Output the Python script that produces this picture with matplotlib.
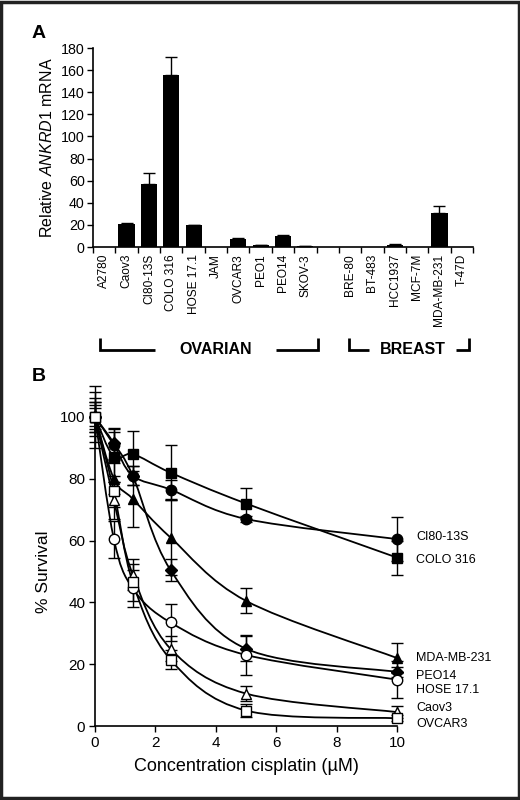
import numpy as np
import matplotlib
matplotlib.use("Agg")
import matplotlib.pyplot as plt
from matplotlib.path import Path
from matplotlib.patches import PathPatch, Rectangle
from matplotlib.transforms import blended_transform_factory

plt.rcParams['font.family'] = ['Liberation Sans', 'DejaVu Sans']
plt.rcParams['mathtext.fontset'] = 'custom'
plt.rcParams['mathtext.rm'] = 'Liberation Sans'
plt.rcParams['mathtext.it'] = 'Liberation Sans:italic'

# ---- panel A data ----
cell_lines = ['A2780', 'Caov3', 'CI80-13S', 'COLO 316', 'HOSE 17.1', 'JAM', 'OVCAR3',
              'PEO1', 'PEO14', 'SKOV-3', '', 'BRE-80', 'BT-483', 'HCC1937', 'MCF-7M',
              'MDA-MB-231', 'T-47D']
mrna = [0, 20.5, 57, 156, 20, 0, 7, 1.5, 10, 0.7, 0, 0, 0, 2, 0, 31, 0]
mrna_err = [0, 1, 10, 16, 0.3, 0, 1.2, 0.3, 0.6, 0.2, 0, 0, 0, 0.4, 0, 6, 0]

# ---- panel B data ----
conc = [0, 0.625, 1.25, 2.5, 5, 10]
surv_ci80 = [100, 91, 81, 76.5, 67, 60.5]
err_ci80 = [5, 5, 3, 3, 1, 7]
surv_colo = [100, 87, 88, 82, 72, 54.5]
err_colo = [10, 8, 7.5, 9, 5, 5.5]
surv_mda = [100, 80, 73.5, 61, 40.5, 22]
err_mda = [6, 5, 9, 12, 4, 4.7]
surv_peo14 = [100, 91.5, 81, 50.5, 25, 17.5]
err_peo14 = [4, 5, 3, 3.5, 4, 1.5]
surv_hose = [100, 60.5, 44.5, 33.5, 23, 15]
err_hose = [8, 6, 6, 6, 6.5, 6]
surv_caov3 = [100, 73, 49, 25, 10.5, 4.5]
err_caov3 = [3, 6, 5, 4, 2.5, 2]
surv_ovcar3 = [100, 76, 46.5, 21.5, 5, 2.5]
err_ovcar3 = [5, 5, 6, 3, 2, 1]

series = [
    ('CI80-13S', surv_ci80, err_ci80, 'o', 'black', 61.2),
    ('COLO 316', surv_colo, err_colo, 's', 'black', 53.7),
    ('MDA-MB-231', surv_mda, err_mda, '^', 'black', 22),
    ('PEO14', surv_peo14, err_peo14, 'D', 'black', 16.2),
    ('HOSE 17.1', surv_hose, err_hose, 'o', 'white', 11.6),
    ('Caov3', surv_caov3, err_caov3, '^', 'white', 5.8),
    ('OVCAR3', surv_ovcar3, err_ovcar3, 's', 'white', 0.6),
]


def smooth_path(x, y, t=1.0):
    # Catmull-Rom style bezier through the points (like a spreadsheet smoothed line)
    p = np.column_stack([x, y]).astype(float)
    verts = [p[0]]
    codes = [Path.MOVETO]
    n = len(p)
    for i in range(n - 1):
        p0 = p[i - 1] if i > 0 else p[i]
        p3 = p[i + 2] if i + 2 < n else p[i + 1]
        c1 = p[i] + (p[i + 1] - p0) * t / 6
        c2 = p[i + 1] - (p3 - p[i]) * t / 6
        verts += [c1, c2, p[i + 1]]
        codes += [Path.CURVE4] * 3
    return Path(verts, codes)


fig = plt.figure(figsize=(5.2, 8), dpi=100)

# ---------------- Panel A ----------------
axA = fig.add_axes([93 / 520, 1 - 247 / 800, (473 - 93) / 520, (247 - 48) / 800])
pos = np.arange(len(cell_lines))
axA.bar(pos, mrna, width=0.72, color='black', zorder=2)
for xi, v, e in zip(pos, mrna, mrna_err):
    if e > 0:
        axA.errorbar(xi, v, yerr=[[0], [e]], fmt='none', ecolor='black',
                     elinewidth=1, capsize=4, capthick=1)
axA.set_xlim(-0.5, len(cell_lines) - 0.5)
axA.set_ylim(0, 180)
axA.set_yticks(np.arange(0, 181, 20))
axA.tick_params(axis='y', labelsize=10.3, direction='out', length=4, width=1, pad=2)
axA.set_xticks(pos)
axA.set_xticklabels(cell_lines, rotation=90, fontsize=8.6)
axA.tick_params(axis='x', length=0, pad=5)
axA.set_xticks(np.arange(-0.5, len(cell_lines), 1), minor=True)
axA.tick_params(axis='x', which='minor', direction='out', length=4, width=1)
for s in ['top', 'right']:
    axA.spines[s].set_visible(False)
for s in ['left', 'bottom']:
    axA.spines[s].set_linewidth(1.2)
axA.set_ylabel('Relative $\\mathit{ANKRD1}$ mRNA', fontsize=11.5, labelpad=4)
fig.text(32 / 520, 1 - 34 / 800, 'A', fontsize=14, fontweight='bold', va='center')

# group brackets
tr = blended_transform_factory(axA.transData, fig.transFigure)
yb = 1 - 350 / 800
yt = 1 - 338 / 800
lw = 2
for x0, g0, g1, x1, xc, name in [(-0.18, 2.29, 7.67, 9.55, 4.98, 'OVARIAN'),
                                 (10.94, 11.84, 15.74, 16.3, 13.8, 'BREAST')]:
    axA.plot([x0, x0, g0], [yt, yb, yb], color='black', lw=lw, transform=tr, clip_on=False,
             solid_capstyle='butt', solid_joinstyle='miter')
    axA.plot([g1, x1, x1], [yb, yb, yt], color='black', lw=lw, transform=tr, clip_on=False,
             solid_capstyle='butt', solid_joinstyle='miter')
    axA.text(xc, yb, name, transform=tr, ha='center', va='center', fontsize=11.5,
             fontweight='bold')

# ---------------- Panel B ----------------
axB = fig.add_axes([95 / 520, 1 - 726 / 800, (397 - 95) / 520, (726 - 417) / 800])
for name, yv, ev, mk, fc, ylab in series:
    axB.add_patch(PathPatch(smooth_path(conc, yv), facecolor='none', edgecolor='black',
                            lw=1.3, zorder=2, clip_on=False))
    axB.errorbar(conc, yv, yerr=ev, fmt='none', ecolor='black', elinewidth=1,
                 capsize=4, capthick=1, zorder=3, clip_on=False)
    ms = 6.5 if mk == 'D' else 7.5
    axB.plot(conc, yv, ls='none', marker=mk, ms=ms, mfc=fc, mec='black', mew=1,
             zorder=4, clip_on=False)
    axB.text(10.63, ylab, name, fontsize=9, va='center', ha='left')

axB.set_xlim(0, 10)
axB.set_ylim(0, 100)
axB.set_xticks(np.arange(0, 11, 2))
axB.set_yticks(np.arange(0, 101, 20))
axB.tick_params(labelsize=11, direction='out', length=4, width=1, pad=3)
for s in ['top', 'right']:
    axB.spines[s].set_visible(False)
for s in ['left', 'bottom']:
    axB.spines[s].set_linewidth(1.2)
axB.set_xlabel('Concentration cisplatin (\u00b5M)', fontsize=13, labelpad=6)
axB.set_ylabel('% Survival', fontsize=12.5, labelpad=6)
fig.text(32 / 520, 1 - 377 / 800, 'B', fontsize=14, fontweight='bold', va='center')

# frame around the figure
fig.add_artist(Rectangle((0.002, 0.002), 0.996, 0.996, transform=fig.transFigure,
                         fill=False, edgecolor='#222222', lw=2.5))

fig.savefig('out.png', dpi=100)
